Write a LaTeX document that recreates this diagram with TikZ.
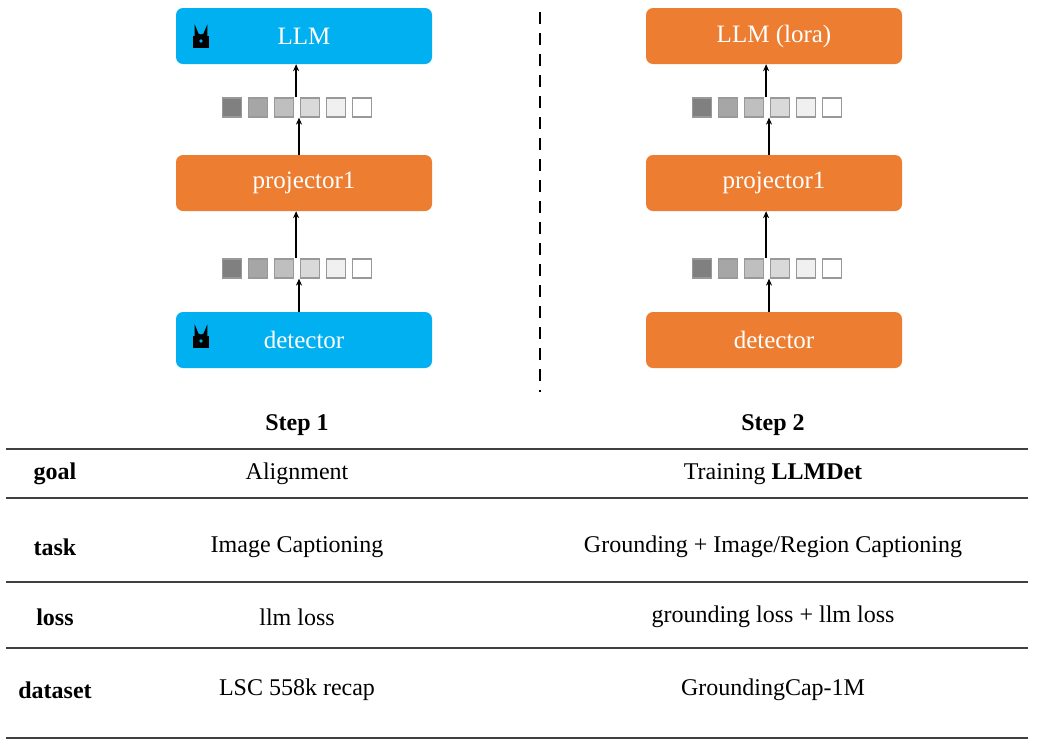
\documentclass[tikz,border=0pt]{standalone}
\usepackage{fontspec}
\setmainfont{Liberation Serif}
\usetikzlibrary{positioning,calc,arrows.meta}
\definecolor{frzc}{RGB}{0,176,240}
\definecolor{trnc}{RGB}{237,125,49}

\begin{document}
\begin{tikzpicture}[x=1pt,y=-1pt]
\tikzstyle{blk}=[rounded corners=7pt,minimum width=256pt,minimum height=56pt,text=white,font=\fontsize{25}{28}\selectfont,inner sep=0pt];
\tikzstyle{tok}=[draw=gray!80,line width=1.2pt,minimum size=19pt,inner sep=0pt];
\tikzstyle{up}=[-{Stealth[length=7pt,width=6pt]},line width=2pt];
\tikzstyle{rule}=[draw=black!75,line width=1.4pt];
\tikzstyle{hd}=[font=\fontsize{24}{28}\selectfont\bfseries];
\tikzstyle{cell}=[font=\fontsize{24}{28}\selectfont];
\newcommand{\lockat}[1]{%
  \fill[black] ($(#1)+(-8,-1)$) rectangle ($(#1)+(8,11)$);
  \draw[black,line width=2.6pt] ($(#1)+(-5,-1)$) -- ++(0,-5) arc[start angle=180,end angle=0,radius=5] -- ++(0,5);
  \fill[frzc] ($(#1)+(0,4)$) circle (1.8pt);}
\useasboundingbox (0,0) rectangle (1043,748);

% step 1
\node[blk,fill=frzc] (llma) at (304,36) {LLM};
\node[blk,fill=trnc] (proja) at (304,183) {projector1};
\node[blk,fill=frzc] (deta) at (304,340) {detector};
\lockat{201,37}
\lockat{201,337}
% step 2
\node[blk,fill=trnc] (llmb) at (774,36) {LLM (lora)};
\node[blk,fill=trnc] (projb) at (774,183) {projector1};
\node[blk,fill=trnc] (detb) at (774,340) {detector};

\foreach \c/\x in {a/232,b/702}{
  \foreach \g [count=\i] in {50,35,25,15,6,0}{
    \node[tok,fill=black!\g] (u\c\i) at (\x+26*\i-26,107.5) {};
    \node[tok,fill=black!\g] (l\c\i) at (\x+26*\i-26,268.5) {};
  }
}
\draw[up] (proja.north) ++(-5,0) coordinate (pa) (pa) -- (pa |- ua3.south);
\draw[up] (ua3.north east) ++(2,0) coordinate (qa) (qa) -- (qa |- llma.south);
\draw[up] (deta.north) ++(-5,0) coordinate (da) (da) -- (da |- la3.south);
\draw[up] (la3.north east) ++(2,0) coordinate (ra) (ra) -- (ra |- proja.south);
\draw[up] (projb.north) ++(-5,0) coordinate (pb) (pb) -- (pb |- ub3.south);
\draw[up] (ub3.north east) ++(2,0) coordinate (qb) (qb) -- (qb |- llmb.south);
\draw[up] (detb.north) ++(-5,0) coordinate (db) (db) -- (db |- lb3.south);
\draw[up] (lb3.north east) ++(2,0) coordinate (rb) (rb) -- (rb |- projb.south);

\coordinate (dtop) at (540,12);
\coordinate (dbot) at (540,392);
\draw[line width=2.5pt,dash pattern=on 12pt off 9pt] (dtop) -- (dbot);

% table
\node[hd] (sa) at (297,425) {Step 1};
\node[hd] (sb) at (773,425) {Step 2};
\foreach \y in {449,498,582,648,738}
  \draw[rule] (6,\y) -- (1028,\y);
\node[hd] (goal) at (55,474) {goal};
\node[hd] (task) at (55,547) {task};
\node[hd] (loss) at (55,617) {loss};
\node[hd] (data) at (55,690) {dataset};
\node[cell] at (297,474) {Alignment};
\node[cell] at (773,474) {Training \textbf{LLMDet}};
\node[cell] at (297,547) {Image Captioning};
\node[cell] at (773,547) {Grounding + Image/Region Captioning};
\node[cell] at (297,617) {llm loss};
\node[cell] at (773,617) {grounding loss + llm loss};
\node[cell] at (297,690) {LSC 558k recap};
\node[cell] at (773,690) {GroundingCap-1M};
\end{tikzpicture}
\end{document}
